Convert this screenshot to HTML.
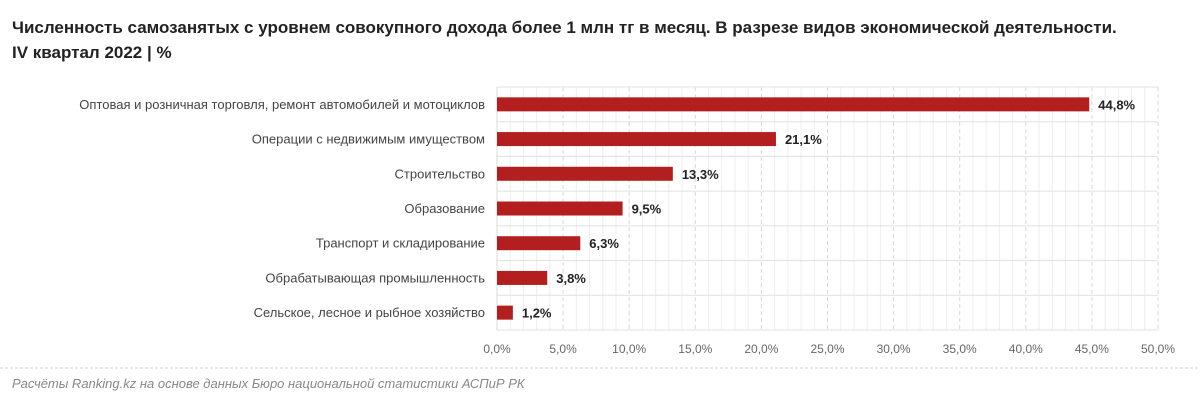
<!DOCTYPE html>
<html><head><meta charset="utf-8"><style>
body{margin:0;background:#fff;width:1200px;height:403px;overflow:hidden;font-family:"Liberation Sans",sans-serif}
.t{position:absolute;left:12px;font-weight:bold;font-size:17px;color:#222;white-space:nowrap}
</style></head><body>
<div class="t" style="top:18px">Численность самозанятых с уровнем совокупного дохода более 1 млн тг в месяц. В разрезе видов экономической деятельности.</div>
<div class="t" style="top:43px">IV квартал 2022 | %</div>
<svg id="c" width="1200" height="403" style="position:absolute;left:0;top:0"></svg>
<div style="position:absolute;left:12px;top:376px;font-size:13px;font-style:italic;color:#888">Расчёты Ranking.kz на основе данных Бюро национальной статистики АСПиР РК</div>
<script>
const categories=["Оптовая и розничная торговля, ремонт автомобилей и мотоциклов","Операции с недвижимым имуществом","Строительство","Образование","Транспорт и складирование","Обрабатывающая промышленность","Сельское, лесное и рыбное хозяйство"];
const values=[44.8,21.1,13.3,9.5,6.3,3.8,1.2];
const ticks=[0,5,10,15,20,25,30,35,40,45,50];
const NS="http://www.w3.org/2000/svg";
const svg=document.getElementById('c');
const x0=497,x1=1158,yTop=87,yBot=330,maxV=50;
const X=v=>x0+(v/maxV)*(x1-x0);
const rowH=(yBot-yTop)/categories.length;
const Y=i=>yTop+rowH*(i+0.5);
function mk(t,a){const e=document.createElementNS(NS,t);for(const k in a)e.setAttribute(k,a[k]);svg.appendChild(e);return e;}
for(let v=1;v<=maxV;v++){
const l=mk('line',{x1:X(v),x2:X(v),y1:yTop,y2:yBot,stroke:v%5==0?'#d8d8d8':'#eeeeee','stroke-dasharray':v%5==0?'4,3':'none'});

}
for(let i=0;i<=categories.length;i++){
const l=mk('line',{x1:x0,x2:x1,y1:yTop+rowH*i,y2:yTop+rowH*i,stroke:'#e0e0e0'});

}
mk('line',{x1:x0,x2:x0,y1:yTop,y2:yBot,stroke:'#d8d8d8'});
categories.forEach((c,i)=>{
const y=Y(i);
const b=mk('rect',{x:x0,y:y-7,width:X(values[i])-x0,height:14,fill:'#b31e1e'});


const lb=mk('text',{x:x0-12,y:y+4.5,'text-anchor':'end','font-size':13,fill:'#444'});lb.textContent=c;


const vl=mk('text',{x:X(values[i])+9,y:y+5,'font-size':13,'font-weight':'bold',fill:'#222'});vl.textContent=values[i].toFixed(1).replace('.',',')+'%';


});
ticks.forEach(t=>{
const tx=mk('text',{x:X(t),y:353,'text-anchor':'middle','font-size':12,fill:'#666'});tx.textContent=t.toFixed(1).replace('.',',')+'%';


});
const sep=mk('line',{x1:0,x2:1200,y1:368,y2:368,stroke:'#ccc','stroke-dasharray':'3,2'});


</script>
</body></html>
